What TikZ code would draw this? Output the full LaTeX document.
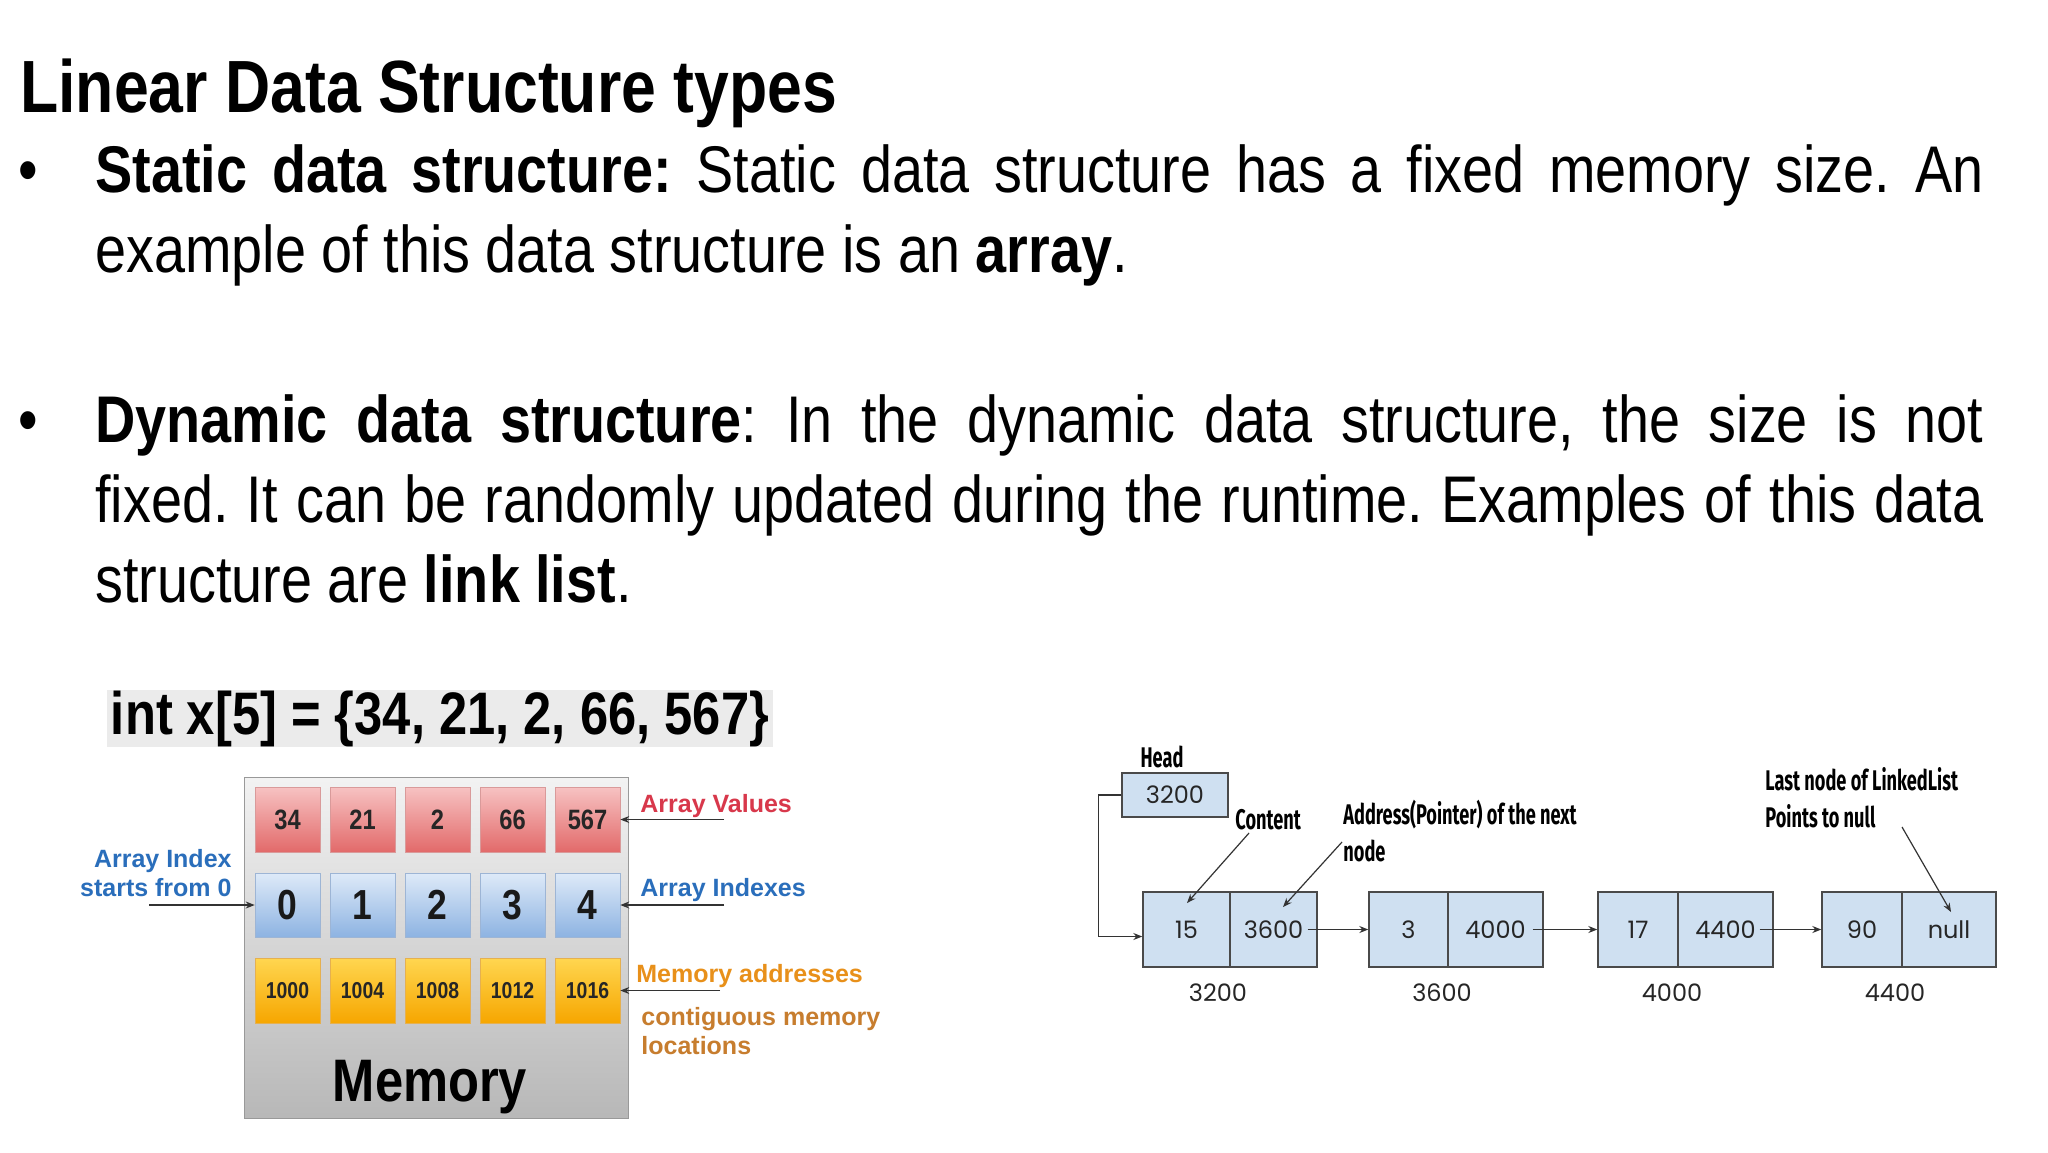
\documentclass[tikz,border=0pt]{standalone}
\usepackage{fontspec}
\setmainfont{Liberation Sans}[FakeStretch=0.845]
\newfontfamily\labfont{Liberation Sans}
\newfontfamily\annfont{Fira Sans}[FakeStretch=0.64]
\newfontfamily\numfont{Poppins}
\usetikzlibrary{arrows.meta}
\frenchspacing
\definecolor{valred}{HTML}{D8384B}
\definecolor{idxblue}{HTML}{2A6EBB}
\definecolor{addrorange}{HTML}{E8901A}
\definecolor{contbrown}{HTML}{C77D2E}
\definecolor{llfill}{HTML}{CFE0F1}
\definecolor{lldraw}{HTML}{4A4A4A}
\definecolor{redtop}{HTML}{F7C2C2}
\definecolor{redbot}{HTML}{E26A6A}
\definecolor{redline}{HTML}{D99A9A}
\definecolor{bluetop}{HTML}{DEEAF8}
\definecolor{bluebot}{HTML}{8DB3E2}
\definecolor{blueline}{HTML}{9DB5D5}
\definecolor{ortop}{HTML}{FFD650}
\definecolor{orbot}{HTML}{F6A600}
\definecolor{orline}{HTML}{E5B050}
\tikzset{
  body/.style={inner sep=0, anchor=base west, font=\frenchspacing\fontsize{33}{36}\selectfont},
  redcell/.style={inner sep=0, minimum width=32.5pt, line width=0.3pt, draw=redline, top color=redtop, bottom color=redbot, minimum height=32.5pt, font=\bfseries\fontsize{14}{16}\selectfont, text=black!85},
  bluecell/.style={inner sep=0, minimum width=32.5pt, line width=0.3pt, draw=blueline, top color=bluetop, bottom color=bluebot, minimum height=32pt, font=\bfseries\fontsize{21}{24}\selectfont, text=black!90},
  orcell/.style={inner sep=0, minimum width=32.5pt, line width=0.3pt, draw=orline, top color=ortop, bottom color=orbot, minimum height=32.5pt, font=\bfseries\fontsize{11.5}{13}\selectfont, text=black!85},
  lab/.style={inner sep=0, font=\labfont\bfseries\fontsize{12.5}{14.5}\selectfont},
  arr/.style={-{Stealth[length=4.5pt,width=3.5pt]}, line width=0.6pt, draw=black!80},
  llcell/.style={draw=lldraw, fill=llfill, line width=0.7pt, inner sep=0, minimum height=37.5pt, font=\numfont\fontsize{12}{14}\selectfont, text=black!85},
  ann/.style={inner sep=0, font=\annfont\bfseries\fontsize{14.2}{18.5}\selectfont, align=left},
  addr/.style={inner sep=0, font=\numfont\fontsize{12}{14}\selectfont, text=black!85}
}
\begin{document}
\begin{tikzpicture}[x=0.5pt,y=-0.5pt]
\useasboundingbox[fill=white] (0,0) rectangle (2048,1152);
% ---- text
\node[inner sep=0, anchor=base west, font=\bfseries\fontsize{37}{40}\selectfont] (title) at (20,112) {Linear Data Structure types};
\node[inner sep=0, anchor=base, font=\fontsize{33}{36}\selectfont] (bul1) at (28,192) {•};
\node[body] (l1) at (95,192) {\makebox[944pt][s]{\textbf{Static data structure:} Static data structure has a fixed memory size. An}};
\node[body] (l2) at (95,272) {example of this data structure is an \textbf{array}.};
\node[inner sep=0, anchor=base, font=\fontsize{33}{36}\selectfont] (bul2) at (28,442) {•};
\node[body] (l3) at (95,442) {\makebox[944pt][s]{\textbf{Dynamic data structure}: In the dynamic data structure, the size is not}};
\node[body] (l4) at (95,522) {\makebox[944pt][s]{fixed. It can be randomly updated during the runtime. Examples of this data}};
\node[body] (l5) at (95,602) {structure are \textbf{link list}.};
% ---- array
\node[fill=black!8, minimum width=333pt, minimum height=28.5pt, inner sep=0] (decl) at (440,718.5) {};
\node[inner sep=0, font=\bfseries\fontsize{30}{32}\selectfont] (decltext) at (440,719) {int x[5] = \{34, 21, 2, 66, 567\}};
\node[draw=black!40, top color=black!5, bottom color=black!28, minimum width=192pt, minimum height=170.5pt, inner sep=0] (mem) at (436,947.5) {};
\node[inner sep=0, font=\bfseries\fontsize{30}{32}\selectfont] (memlabel) at (430,1087) {Memory};
\foreach \v/\i/\a [count=\k from 0] in {34/0/1000, 21/1/1004, 2/2/1008, 66/3/1012, 567/4/1016}{
  \node[redcell] (v\k) at (287.5+75*\k,819.5) {\v};
  \node[bluecell] (i\k) at (287.5+75*\k,905) {\i};
  \node[orcell] (a\k) at (287.5+75*\k,990.5) {\a};
}
\node[lab, text=valred, anchor=west] (lv) at (640,806) {Array Values};
\coordinate (lve) at (724,819.5);
\draw[arr] (lve) -- (v4.east);
\node[lab, text=idxblue, anchor=west] (li) at (640,890) {Array Indexes};
\coordinate (lie) at (724,905);
\draw[arr] (lie) -- (i4.east);
\node[lab, text=addrorange, anchor=west] (la) at (636,976) {Memory addresses};
\coordinate (lae) at (720,990.5);
\draw[arr] (lae) -- (a4.east);
\node[lab, text=contbrown, anchor=north west, align=left] (lc) at (641,1007) {contiguous memory\\locations};
\node[lab, text=idxblue, anchor=east, align=right] (lidx) at (232,873) {Array Index\\starts from 0};
\coordinate (lidxs) at (149,905);
\draw[arr] (lidxs) -- (i0.west);
% ---- linked list
\node[ann, anchor=center] (headlab) at (1162,757) {Head};
\node[llcell, minimum width=53pt, minimum height=22pt] (head) at (1175,795) {3200};
\node[llcell, minimum width=43.5pt] (n1a) at (1186.5,929.5) {15};
\node[llcell, minimum width=43.5pt] (n1b) at (1273.5,929.5) {3600};
\node[llcell, minimum width=39.5pt] (n2a) at (1408.5,929.5) {3};
\node[llcell, minimum width=47.5pt] (n2b) at (1495.5,929.5) {4000};
\node[llcell, minimum width=40pt] (n3a) at (1638,929.5) {17};
\node[llcell, minimum width=47.5pt] (n3b) at (1725.5,929.5) {4400};
\node[llcell, minimum width=40pt] (n4a) at (1862,929.5) {90};
\node[llcell, minimum width=47pt] (n4b) at (1949,929.5) {null};
\node[addr] (ad1) at (1218,993) {3200};
\node[addr] (ad2) at (1442,993) {3600};
\node[addr] (ad3) at (1672,993) {4000};
\node[addr] (ad4) at (1895,993) {4400};
\draw[arr] (head.west) -- ++(-23,0) |- ([yshift=-3.5pt]n1a.west);
\draw[arr] ([xshift=-5pt]n1b.east) -- (n2a.west);
\draw[arr] ([xshift=-5.5pt]n2b.east) -- (n3a.west);
\draw[arr] ([xshift=-7pt]n3b.east) -- (n4a.west);
\node[ann, anchor=west] (cont) at (1235,820) {Content};
\coordinate (ct1) at (1249,833);
\coordinate (ct2) at (1187,903);
\draw[arr] (ct1) -- (ct2);
\node[ann, anchor=west] (addrlab) at (1343,831.5) {Address(Pointer) of the next\\node};
\coordinate (at1) at (1342,842);
\coordinate (at2) at (1283,907);
\draw[arr] (at1) -- (at2);
\node[ann, anchor=west] (lastlab) at (1765,797.5) {Last node of LinkedList\\Points to null};
\coordinate (lt1) at (1902,827);
\coordinate (lt2) at (1951,912);
\draw[arr] (lt1) -- (lt2);
\end{tikzpicture}
\end{document}
